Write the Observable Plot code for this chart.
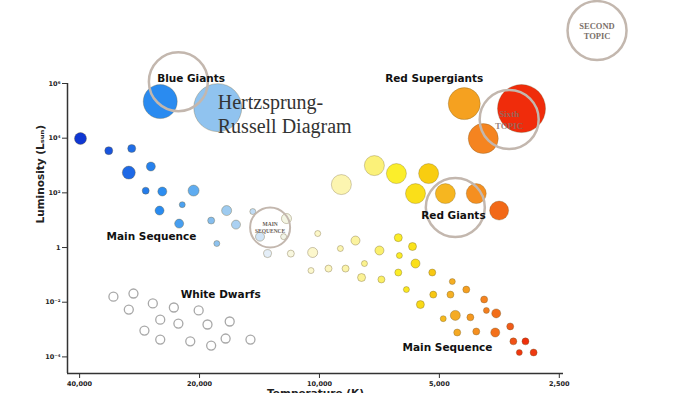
<!DOCTYPE html>
<html><head><meta charset="utf-8">
<script src="https://cdn.jsdelivr.net/npm/d3@7"></script>
<script src="https://cdn.jsdelivr.net/npm/@observablehq/plot@0.6"></script>
<style>html,body{margin:0;padding:0;background:#fff;overflow:hidden}</style>
</head><body><div id="chart"></div>
<script>
// Axis ticks
const xTicks = [40000, 20000, 10000, 5000, 2500];
const xTickLabels = ["40,000", "20,000", "10,000", "5,000", "2,500"];
const yTicks = [1e-4, 1e-2, 1, 1e2, 1e4, 1e6];
const yTickLabels = ["10\u207B\u2074", "10\u207B\u00B2", "1", "10\u00B2", "10\u2074", "10\u2076"];
const xLabel = "Temperature (K)";
const yLabel = "Luminosity (L\u209B\u1D64\u2099)";

// Main sequence stars: temperature (K), luminosity (L_sun), relative size
const msTemp = [39800,33800,29600,30100,26500,27300,24800,20700,22100,25200,22500,18700,17100,16200,14700,18100,14100,12100,12300,13500,11800,10400,10100,8860,8120,7070,6340,6300,5840,5740,10500,9490,8600,7710,7840,6990,6340,6050,5580,5210,5180,4640,4690,4280,3860,4560,4890,4180,3810,3600,4510,4040,3620,3320,3260,3040,3150,2900];
const msLum  = [9700,3500,4200,550,920,120,112,121,37,22.5,7.5,9.7,22.5,6.9,20.7,1.4,2.5,11.5,2.5,0.6,0.6,0.66,3.25,0.92,1.8,0.78,2.3,0.51,1.09,0.26,0.144,0.17,0.17,0.26,0.08,0.068,0.122,0.029,0.0082,0.122,0.019,0.057,0.019,0.029,0.0126,0.0033,0.0025,0.0028,0.005,0.0039,0.00078,0.00085,0.00078,0.0013,0.00037,0.00037,0.000145,0.000145];
const msSize = [6,4,4,6.5,4.5,3.5,4.5,5.5,3,4.5,4.5,3.5,5,4.5,3,3,4.5,5,3,4,3.5,5,3,3,4.5,4.5,4,3,4,4.5,3,3.5,3.5,3,4,3.5,3.5,3,4,3.5,3.5,3,3.5,3.5,3.5,5,3,3.5,3,4.5,3.5,3.5,4.5,3.5,3.5,3.5,3,3.5];

// Giants and supergiants
const giantTemp = [8810,7280,6410,5320,5740,4830,4040,3540,4330,3880,3110,25100,18000];
const giantLum  = [201,995,508,508,94,94,94,22.5,184000,9670,121000,218000,131000];
const giantSize = [10,10,10,10,10,10,10,9.5,16,15,24,17,24];

// White dwarfs
const wdTemp = [32900,29300,30100,26200,23200,20100,25100,22600,19100,16800,27500,25100,21100,18700,17200,14900];
const wdLum  = [0.016,0.0208,0.0054,0.009,0.0064,0.005,0.0023,0.00166,0.00153,0.00197,0.00092,0.00043,0.00037,0.00026,0.00047,0.00043];

// Region labels
const labelText = ["Blue Giants","Red Supergiants","Red Giants","Main Sequence","White Dwarfs","Main Sequence"];
const labelTemp = [21000,5150,4610,26400,17700,4770];
const labelLum  = [1.51e6,1.51e6,14.8,2.5,0.019,0.00022];

// Topic rings
const ringTemp = [22600,3340,4560];
const ringLum  = [1.17e6,47900,29];
const smallRingTemp = [13300];
const smallRingLum = [5.4];
const topicTemp = [2010];
const topicLum = [8.6e7];
const ringText = ["Sixth\nTOPIC"];
const smallRingText = ["MAIN\nSEQUENCE"];
const topicText = ["SECOND\nTOPIC"];

const titleText = ["Hertzsprung-\nRussell Diagram"];
const titleTemp = [18000];
const titleLum = [79400];

// Colour scale by temperature
const colorStops = [2900,3100,3300,3550,3900,4300,4700,5300,5800,6400,7100,8000,9500,11500,13500,14500,17000,19000,21000,25000,30000,40000];
const colorRange = ["#ee3a12","#f02a0a","#f05a1a","#f26a18","#f58520","#f5a020","#f5b025","#f8cc10","#fae21a","#fbee2a","#fbf070","#fbf39c","#fcf6c0","#fcf9da","#e4eef8","#c4def5","#a0ccf0","#80baee","#5aaaf0","#2a8cf0","#1e6ae6","#0f36d2"];

const rows = (t, l, s) => t.map((d, i) => ({t: d, l: l[i], s: s ? s[i] : 0}));
const ms = rows(msTemp, msLum, msSize);
const giants = rows(giantTemp, giantLum, giantSize);
const wd = rows(wdTemp, wdLum);
const labels = labelText.map((d, i) => ({text: d, t: labelTemp[i], l: labelLum[i]}));
const rings = rows(ringTemp, ringLum);
const xDomain = [42900, 2440];
const yDomain = [2.47e-5, 1e6];

const ringStroke = "#c3b7ae";

const chart = Plot.plot({
  width: 700, height: 393,
  marginLeft: 67, marginRight: 137, marginTop: 83, marginBottom: 20,
  style: {fontFamily: "DejaVu Sans", background: "#fff", color: "#222"},
  x: {type: "log", domain: xDomain, axis: null},
  y: {type: "log", domain: yDomain, axis: null},
  color: {type: "log", domain: colorStops, range: colorRange},
  r: {type: "identity"},
  marks: [
    Plot.ruleY([yDomain[0]], {stroke: "#333", strokeWidth: 1.5}),
    Plot.ruleX([xDomain[0]], {stroke: "#333", strokeWidth: 1.5}),
    Plot.axisX(xTicks, {anchor: "bottom", tickSize: 5, tickPadding: 3, fontSize: 6.5, fontWeight: "bold", stroke: "#333",
      tickFormat: d => xTickLabels[xTicks.indexOf(d)], label: null}),
    Plot.axisY(yTicks, {anchor: "left", tickSize: 5, tickPadding: 2, fontSize: 6.5, fontWeight: "bold", stroke: "#333",
      tickFormat: d => yTickLabels[yTicks.indexOf(d)], label: null}),
    Plot.text([yLabel], {frameAnchor: "left", rotate: -90, dx: -27, dy: -5, fontSize: 10.5, fontWeight: "bold", fill: "#222"}),
    Plot.text([xLabel], {frameAnchor: "bottom", lineAnchor: "top", dy: 16, fontSize: 10.5, fontWeight: "bold", fill: "#222"}),
    Plot.dot(wd, {x: "t", y: "l", r: 4.5, fill: "#fff", stroke: "#a8a8a8", strokeWidth: 1.3}),
    Plot.dot(ms, {x: "t", y: "l", r: "s", fill: "t", stroke: "#6b5a2a", strokeOpacity: 0.35, strokeWidth: 1}),
    Plot.dot(giants, {x: "t", y: "l", r: "s", fill: "t", stroke: "#6b5a2a", strokeOpacity: 0.3, strokeWidth: 1}),
    Plot.text(titleText, {x: titleTemp, y: titleLum, textAnchor: "start", lineAnchor: "middle", lineHeight: 1.2,
      fontFamily: "Liberation Serif", fontSize: 20, fill: "#333"}),
    Plot.dot(rings, {x: "t", y: "l", r: 29.5, fill: "none", stroke: ringStroke, strokeWidth: 2.5}),
    Plot.dot(smallRingTemp, {x: d => d, y: (d, i) => smallRingLum[i], r: 20, fill: "none", stroke: ringStroke, strokeWidth: 2}),
    Plot.dot(topicTemp, {x: d => d, y: (d, i) => topicLum[i], r: 29.5, fill: "none", stroke: ringStroke, strokeWidth: 2.5}),
    Plot.text(ringText, {x: [ringTemp[1]], y: [ringLum[1]], lineHeight: 1.3, fontFamily: "Liberation Serif", fontWeight: "bold", fontSize: 9, fill: "#8a7068", fillOpacity: 0.85}),
    Plot.text(smallRingText, {x: smallRingTemp, y: smallRingLum, lineHeight: 1.25, fontFamily: "Liberation Serif", fontWeight: "bold", fontSize: 5.5, fill: "#6a5e58"}),
    Plot.text(topicText, {x: topicTemp, y: topicLum, lineHeight: 1.25, fontFamily: "Liberation Serif", fontWeight: "bold", fontSize: 8.5, fill: "#7a706a"}),
    Plot.text(labels, {x: "t", y: "l", text: "text", fontSize: 10.5, fontWeight: "bold", fill: "#111"})
  ]
});
document.getElementById("chart").appendChild(chart);
</script>
</body></html>
